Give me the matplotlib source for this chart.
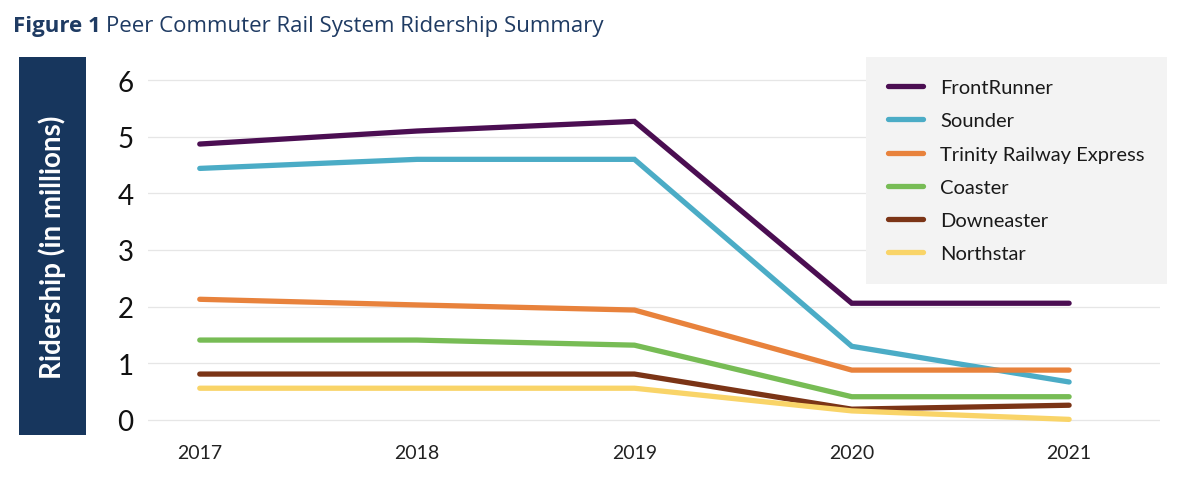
import matplotlib
matplotlib.use("Agg")
import matplotlib.pyplot as plt
from matplotlib.patches import Rectangle
from matplotlib.transforms import offset_copy

years = [2017, 2018, 2019, 2020, 2021]
frontrunner = [4.87, 5.10, 5.27, 2.06, 2.06]
sounder = [4.44, 4.60, 4.60, 1.30, 0.67]
trinity = [2.13, 2.03, 1.94, 0.88, 0.88]
coaster = [1.41, 1.41, 1.32, 0.41, 0.41]
downeaster = [0.81, 0.81, 0.81, 0.19, 0.26]
northstar = [0.56, 0.56, 0.56, 0.16, 0.01]

series = [
    ("FrontRunner", frontrunner, "#4B0E52"),
    ("Sounder", sounder, "#4BACC6"),
    ("Trinity Railway Express", trinity, "#E8823C"),
    ("Coaster", coaster, "#77BC55"),
    ("Downeaster", downeaster, "#7B3416"),
    ("Northstar", northstar, "#F9D468"),
]

plt.rcParams['font.family'] = ['Lato', 'DejaVu Sans']

fig = plt.figure(figsize=(12, 4.85), dpi=100)
ax = fig.add_axes([0.123, 0.1087, 0.844, 0.7476])

for name, vals, col in series:
    ax.plot(years, vals, color=col, linewidth=3.8, label=name,
            solid_capstyle='round', solid_joinstyle='miter')

ax.set_xlim(2016.76, 2021.42)
ax.set_ylim(-0.2, 6.2)
ax.set_yticks(range(0, 7))
ax.set_xticks(years)
ax.tick_params(axis='y', length=0, labelsize=20, pad=10, labelcolor='#111111')
ax.tick_params(axis='x', length=0, labelsize=14, pad=9, labelcolor='#222222')
ax.grid(axis='y', color='#E6E6E6', linewidth=0.9)
ax.set_axisbelow(True)
for s in ax.spines.values():
    s.set_visible(False)

leg = ax.legend(loc='upper right', bbox_to_anchor=(0.9725, 0.8804),
                bbox_transform=fig.transFigure, borderaxespad=0,
                fontsize=14.5, frameon=True, fancybox=False,
                handlelength=1.75, handletextpad=0.85, labelspacing=0.8,
                borderpad=1.1)
leg.get_frame().set_facecolor('#F3F3F3')
leg.get_frame().set_edgecolor('none')
leg.get_frame().set_alpha(1)
for t in leg.get_texts():
    t.set_color('#1a1a1a')

# y label box
fig.patches.append(Rectangle((0.0158, 0.101), 0.0558, 0.779,
                             transform=fig.transFigure, facecolor='#17365D',
                             edgecolor='none'))
fig.text(0.0433, 0.491, "Ridership (in millions)", rotation=90, color='white',
         fontsize=20, fontweight='bold', ha='center', va='center')

# title
t1 = fig.text(0.011, 0.935, "Figure 1", fontsize=16, fontweight='bold',
              color='#1F3B63', family=['Open Sans', 'DejaVu Sans'], va='baseline')
fig.canvas.draw()
w = t1.get_window_extent().width
fig.text(0.011, 0.935, "Peer Commuter Rail System Ridership Summary", fontsize=16,
         color='#1F3B63', family=['Open Sans', 'DejaVu Sans'], va='baseline',
         transform=offset_copy(fig.transFigure, fig=fig, x=w + 5, y=0, units='dots'))

fig.savefig("out.png", dpi=100)
